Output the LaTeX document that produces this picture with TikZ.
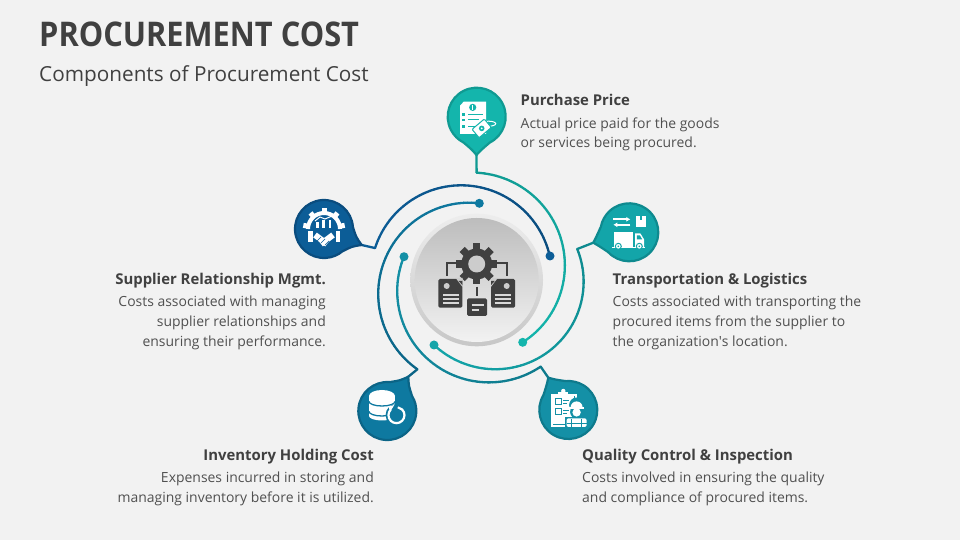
\documentclass[tikz,border=0pt]{standalone}
\usepackage{fontspec}
\setmainfont{Open Sans}
\newfontfamily\titlefont[FakeStretch=0.905]{Open Sans}
\usetikzlibrary{arrows.meta}
\usetikzlibrary{calc}
\usetikzlibrary{positioning}

\definecolor{paper}{HTML}{F2F2F2}
\definecolor{ink}{HTML}{404040}
\definecolor{bodyink}{HTML}{505050}
\definecolor{ppfill}{HTML}{14B5AC}
\definecolor{ppring}{HTML}{0F9A92}
\definecolor{srfill}{HTML}{0C5D97}
\definecolor{srring}{HTML}{0A4C7E}
\definecolor{tlfill}{HTML}{13A5A9}
\definecolor{tlring}{HTML}{0E8A8F}
\definecolor{ihfill}{HTML}{0E79A0}
\definecolor{ihring}{HTML}{0B6486}
\definecolor{qcfill}{HTML}{1490A6}
\definecolor{qcring}{HTML}{0E7A8C}

% arc with slowly changing radius and colour
\newcommand{\spiralarc}[7]{
  \foreach \i in {1,...,60} {
    \pgfmathsetmacro{\pct}{100*\i/60}
    \pgfmathsetmacro{\aa}{#2+(#4-#2)*(\i-1)/60}
    \pgfmathsetmacro{\ab}{#2+(#4-#2)*\i/60}
    \pgfmathsetmacro{\ra}{#3+(#5-#3)*(\i-1)/60}
    \pgfmathsetmacro{\rb}{#3+(#5-#3)*\i/60}
    \draw[wire, draw=#7!\pct!#6] ($(#1)+(\aa:\ra)$) -- ($(#1)+(\ab:\rb)$);
  }
}

% round bubble pointing at its tip
\newcommand{\bubble}[4]{
  \draw[line width=2.2pt, draw=#4, fill=#3]
    ($(#1)+(#2+27:29)$) arc[start angle=#2+27, end angle=#2+333, radius=29]
    .. controls ($(#1)+(#2-9:33)$) .. (#1tip)
    .. controls ($(#1)+(#2+9:33)$) .. cycle;
}

\begin{document}
\begin{tikzpicture}[
      x = 1pt, y = 1pt,
      >=latex,
      wire/.style = { line width = 2.3pt, line cap = round },
      dot/.style = { circle, inner sep = 0, minimum size = 9pt },
      head/.style = {
        inner sep = 0, text = ink, text height = 11pt, text depth = 3pt,
        font = {\fontsize{14.9}{18}\selectfont\bfseries}
      },
      textbody/.style = {
        inner sep = 0, text = bodyink,
        font = {\fontsize{13.95}{19.6}\selectfont}
      },
      iconline/.style = { draw = white, line width = 1.7pt },
    ]

    \useasboundingbox[fill = paper] (0,0) rectangle (960,540);

    \node[anchor = west, inner sep = 0, text = ink, font = {\titlefont\fontsize{34}{40}\selectfont\bfseries}] (title) at (39,506) {PROCUREMENT COST};
    \node[anchor = west, inner sep = 0, text = ink, font = {\fontsize{20.75}{24}\selectfont}] (subtitle) at (39,464) {Components of Procurement Cost};

    %% where the bubbles sit and where their tails end
    \coordinate (pp) at (476.7,423.3);
    \coordinate (sr) at (324,311);
    \coordinate (tl) at (629.3,307.7);
    \coordinate (ih) at (387.3,129);
    \coordinate (qc) at (568.3,130);
    \coordinate (pptip) at (476.5,385);
    \coordinate (srtip) at (361.7,295);
    \coordinate (tltip) at (593.3,297.3);
    \coordinate (ihtip) at (408.3,163.3);
    \coordinate (qctip) at (548.3,162.3);

    %% centers of the arcs
    \coordinate (ppc) at (473,273);
    \coordinate (src) at (461,264);
    \coordinate (tlc) at (497,260);
    \coordinate (ihc) at (470,247);
    \coordinate (qcc) at (488,250);

    \coordinate (ppbend) at ($(ppc)+(87.8:94.4)$);
    \coordinate (srbend) at ($(src)+(162:90.4)$);
    \coordinate (tlbend) at ($(tlc)+(21.1:86)$);
    \coordinate (ihbend) at ($(ihc)+(235.4:92.7)$);
    \coordinate (qcbend) at ($(qcc)+(304.5:93)$);

    %% arcs
    \spiralarc{ppc}{87.8}{94.4}{-56.6}{90.2}{ppring}{ppfill}
    \spiralarc{src}{162}{90.4}{12.7}{91}{srfill}{srring}
    \spiralarc{tlc}{21.1}{86}{-134}{90.5}{tlring}{tlfill}
    \spiralarc{ihc}{235.4}{92.7}{84}{90.2}{ihring}{ihfill}
    \spiralarc{qcc}{304.5}{93}{158}{90.4}{qcring}{qcfill}

    %% tails
    \draw[wire, ppring] (pptip) to (ppbend);
    \draw[wire, srfill] (srtip) to (srbend);
    \draw[wire, tlring] (tltip) to (tlbend);
    \draw[wire, ihring] (ihtip) to (ihbend);
    \draw[wire, qcring] (qctip) to (qcbend);

    %% dots
    \node[dot, fill = ppfill] (ppdot) at (522.7,197.7) {};
    \node[dot, fill = srfill] (srdot) at (550,284) {};
    \node[dot, fill = tlfill] (tldot) at (434,195) {};
    \node[dot, fill = ihfill] (ihdot) at (479.3,336.7) {};
    \node[dot, fill = qcfill] (qcdot) at (404,283.3) {};

    \bubble{pp}{-90}{ppfill}{ppring}
    \bubble{sr}{-23}{srfill}{srring}
    \bubble{tl}{196}{tlfill}{tlring}
    \bubble{ih}{58.5}{ihfill}{ihring}
    \bubble{qc}{122}{qcfill}{qcring}

    %% center disc
    \coordinate (hub) at (476.7,260);
    \shade[top color = black!7, bottom color = black!22] (hub) circle (66.3);
    \shade[top color = black!26, bottom color = paper] (hub) circle (62);

    \begin{scope}[shift = {(hub)}]
      \foreach \a in {0,45,...,315} {
        \fill[ink, rotate around = {\a:(0,16)}] (-3.6,30) rectangle (3.6,36.5);
      }
      \fill[ink] (0,16) circle (15.5);
      \fill[black!20] (0,16) circle (8.5);
      \draw[ink, line width = 2pt] (0,-6.7) to (0,-16);
      \foreach \s in {-1,1} {
        \begin{scope}[xscale = \s]
          \draw[ink, line width = 2pt] (20,17.3) -- (30,17.3) -- (30,4);
          \fill[ink, rounded corners = 1.5pt] (14.4,-27.7) rectangle (38.4,1);
          \fill[black!20] (14.2,-7) -- (14.2,2) -- (21,2) -- cycle;
          \fill[ink] (14.4,-5) -- (14.4,-1) -- (18,-1) -- cycle;
          \fill[black!20] (30,-6) circle (3);
          \foreach \y in {-15,-19.3,-23.3} {
            \draw[black!15, line width = 1.7pt] (18,\y) to (34,\y);
          }
        \end{scope}
      }
      \fill[ink, rounded corners = 1.5pt] (-9.7,-36) rectangle (10.3,-18.3);
      \draw[black!15, line width = 1.7pt] (-5,-25) to (7.7,-25);
      \draw[black!15, line width = 1.7pt] (-5,-30) to (2.3,-30);
    \end{scope}

    %% purchase price icon
    \begin{scope}[shift = {(pp)}]
      \fill[white] (-13,15) -- (9.3,15) -- (9.3,-17.3) -- (-16.7,-17.3) -- (-16.7,11) -- cycle;
      \fill[ppfill] (-4,9.3) circle (3.6);
      \draw[white, line width = .8pt] (-4,7) to (-4,11.6);
      \foreach \y/\l in {2.3/6, -3.3/2, -10/-1} {
        \fill[ppfill] (-15,\y-1.4) rectangle (-12,\y+1.4);
        \draw[ppfill, line width = 1pt] (-8.3,\y) to (\l,\y);
      }
      \draw[white, line width = 1pt] (12,-7) ellipse (7 and 2.5);
      \draw[ppfill, fill = white, line width = 1pt, rotate around = {40:(5,-11.7)}, rounded corners = 1pt] (-3,-17.2) rectangle (13,-6.2);
      \fill[ppfill] (5,-11.7) circle (2.8);
      \fill[white] (5,-11.7) circle (1);
    \end{scope}

    %% supplier icon
    \begin{scope}[shift = {(sr)}]
      \foreach \a in {10,50,90,130,170} {
        \draw[white, line width = 5pt] (\a:15) to (\a:21);
      }
      \draw[white, line width = 4pt] (16,0) arc[start angle = 0, end angle = 180, radius = 16];
      \fill[white] (-8,.7) rectangle (-5.4,6.7);
      \fill[white] (-2,.7) rectangle (.6,8.7);
      \fill[white] (4.7,.7) rectangle (7.3,9);
      \draw[white, line width = 1pt] (-9,8) -- (-4,12) -- (1,10) -- (8,13);
      \fill[white] (-15.7,-13) rectangle (-11.3,-2);
      \fill[white] (12,-13) rectangle (16,-2);
      \draw[white, line width = 6pt] (-9,-6) to (3,-15);
      \draw[white, line width = 6pt] (9,-6) to (-3,-15);
      \foreach \d in {-4,0,4} {
        \draw[srfill, line width = .7pt] (\d-3,-14-.5*\d) to (\d+1,-10-.5*\d);
      }
    \end{scope}

    %% transport icon
    \begin{scope}[shift = {(tl)}]
      \draw[iconline, -{Latex[length=4pt,width=5pt]}] (-16,13) to (1,13);
      \draw[iconline, -{Latex[length=4pt,width=5pt]}] (1,7.5) to (-16,7.5);
      \fill[white] (6.7,5.7) rectangle (16.7,16.3);
      \fill[tlfill] (10.5,12) rectangle (13,16.3);
      \fill[white] (-15.3,-15) rectangle (4,.7);
      \fill[white] (5.7,-15) -- (5.7,-1) -- (11,-1) -- (14.7,-7) -- (14.7,-15) -- cycle;
      \fill[tlfill] (7.5,-3) -- (10.5,-3) -- (12.8,-7) -- (7.5,-7) -- cycle;
      \draw[iconline, line width = 1pt] (-17,-15.3) to (16,-15.3);
      \foreach \x in {-11,10} {
        \draw[tlfill, fill = white, line width = 1pt] (\x,-14) circle (3);
        \fill[tlfill] (\x,-14) circle (.9);
      }
    \end{scope}

    %% inventory icon
    \begin{scope}[shift = {(ih)}]
      \fill[white] (-18.3,15) rectangle (7.7,-5);
      \fill[white] (-5.3,15) ellipse (13 and 6);
      \fill[white] (-5.3,-5) ellipse (13 and 4.5);
      \foreach \y in {9.5,-.5} {
        \draw[ihfill, line width = 1.3pt] (-18.3,\y) arc[start angle = 180, end angle = 360, x radius = 13, y radius = 4.5];
      }
      \fill[ihfill] (9.3,-4) circle (11);
      \draw[white, line width = 2.2pt] (3.5,1.5) arc[start angle = 135, end angle = 440, radius = 8];
      \fill[white] (1,4.5) -- (7,6) -- (3,-.5) -- cycle;
    \end{scope}

    %% quality icon
    \begin{scope}[shift = {(qc)}]
      \draw[white, line width = 1.6pt] (-16.5,-16) rectangle (7.5,15);
      \fill[white] (-15,-14.5) rectangle (6,13.5);
      \fill[white] (-10,15) rectangle (0,18);
      \fill[white] (-5,19) circle (2.2);
      \foreach \y in {8.3,-1.7} {
        \draw[qcfill, line width = 1pt] (-13,\y-3) rectangle (-7,\y+3);
        \draw[qcfill, line width = 1pt] (-5,\y+1.5) to (1,\y+1.5);
        \draw[qcfill, line width = 1pt] (-5,\y-1.5) to (-1,\y-1.5);
      }
      \fill[qcfill] (-3,-18) rectangle (20.5,-7);
      \fill[qcfill] (8.3,-2) circle (6.5);
      \fill[qcfill] (8.3,5) circle (7.5);
      \fill[white] (2.3,2.6) arc[start angle = 180, end angle = 0, radius = 6] -- cycle;
      \draw[white, line width = 1.2pt] (.5,2) to (16,2);
      \fill[white] (8.3,-2.4) circle (4.2);
      \fill[white, rounded corners = 2pt] (-1.7,-17) rectangle (18.3,-8.3);
      \draw[qcfill, line width = .8pt] (3.5,-17) to (3.5,-9);
      \draw[qcfill, line width = .8pt] (13,-17) to (13,-9);
      \draw[qcfill, line width = .8pt] (-1.7,-13) to (18.3,-13);
    \end{scope}

    %% labels
    \node[head, anchor = west] (pphead) at (520.5,438) {Purchase Price};
    \node[textbody, align = left, below = 8pt of pphead.south west, anchor = north west] (ppbody) {Actual price paid for the goods\\or services being procured.};

    \node[head, anchor = east] (srhead) at (326,259) {Supplier Relationship Mgmt.};
    \node[textbody, align = right, below = 8pt of srhead.south east, anchor = north east] (srbody) {Costs associated with managing\\supplier relationships and\\ensuring their performance.};

    \node[head, anchor = west] (tlhead) at (612.5,259) {Transportation \& Logistics};
    \node[textbody, align = left, below = 8pt of tlhead.south west, anchor = north west] (tlbody) {Costs associated with transporting the\\procured items from the supplier to\\the organization\textquotesingle s location.};

    \node[head, anchor = east] (ihhead) at (374,83) {Inventory Holding Cost};
    \node[textbody, align = right, below = 8pt of ihhead.south east, anchor = north east] (ihbody) {Expenses incurred in storing and\\managing inventory before it is utilized.};

    \node[head, anchor = west] (qchead) at (582,83) {Quality Control \& Inspection};
    \node[textbody, align = left, below = 8pt of qchead.south west, anchor = north west] (qcbody) {Costs involved in ensuring the quality\\and compliance of procured items.};
  \end{tikzpicture}
\end{document}
